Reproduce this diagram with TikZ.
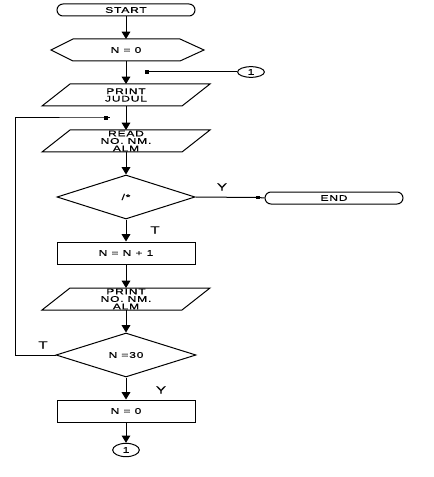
\documentclass[tikz,border=0pt]{standalone}
\usepackage{fontspec}
\setmainfont{Liberation Sans}
\newfontfamily\fcfont[FakeStretch=1.45,LetterSpace=10,FakeBold=0.6]{Liberation Sans}
\usetikzlibrary{arrows.meta,shapes.misc,shapes.geometric}
\begin{document}
\begin{tikzpicture}[x=0.75pt,y=-0.75pt,
  line width=0.75pt,
  every node/.style={font=\fcfont\fontsize{6.2}{5.6}\selectfont, inner sep=0pt, align=center},
  arr/.style={-{Triangle[length=5.5pt,width=6.5pt]}},
  term/.style={draw, rounded rectangle, minimum height=9pt, minimum width=103.5pt},
  box/.style={draw, rectangle, minimum height=16.5pt, minimum width=103.5pt},
  ghost/.style={rectangle, minimum height=16.5pt, minimum width=105pt},
  lbl/.style={font=\fcfont\fontsize{8}{8}\selectfont},
  mk/.style={fill, rectangle, minimum width=3.5pt, minimum height=2.4pt}
]
\useasboundingbox (0,0) rectangle (433,477);
% START
\node[term] (start) at (126,10) {START};
% N = 0 hexagon
\node[rectangle, minimum width=114.75pt, minimum height=16.5pt] (init) at (126,50) {N = 0};
\draw (51,50) -- (73,39) -- (180,39) -- (204,50) -- (180,61) -- (73,61) -- cycle;
% connector 1 (top)
\node[draw, ellipse, minimum width=20pt, minimum height=8pt] (c1top) at (251,72) {1};
\node[mk] (m1) at (147,72) {};
\draw (c1top.west) -- (m1.center);
% PRINT JUDUL
\node[ghost] (pj) at (126,95) {PRINT\\JUDUL};
\draw (70,84) -- (210,84) -- (182,106) -- (42,106) -- cycle;
% READ
\node[ghost] (rd) at (126,141) {READ\\NO. NM.\\ALM};
\draw (70,130) -- (210,130) -- (182,152) -- (42,152) -- cycle;
% decision /*
\node[diamond, draw, aspect=3.1, minimum width=103.5pt, minimum height=33pt] (d1) at (126,197) {/*};
% END
\node[term] (end) at (334,198) {END};
\node[mk] (m2) at (258,197.5) {};
% N = N + 1
\node[box] (inc) at (126,253) {N = N + 1};
% PRINT NO NM ALM
\node[ghost] (pr) at (126,299) {PRINT\\NO. NM.\\ALM};
\draw (70,288) -- (210,288) -- (182,310) -- (42,310) -- cycle;
% decision N=30
\node[diamond, draw, aspect=3.1, minimum width=105pt, minimum height=33pt] (d2) at (126,355) {N =30};
% N = 0
\node[box] (reset) at (126,411) {N = 0};
% connector 1 (bottom)
\node[draw, ellipse, minimum width=20pt, minimum height=10pt] (c1bot) at (126,450) {1};
% loop marker
\node[mk] (m3) at (106,118) {};
\coordinate (lc) at (15,118);
% arrows
\draw[arr] (start.south) -- (126,39);
\draw[arr] (126,61) -- (126,84);
\draw[arr] (126,106) -- (126,130);
\draw[arr] (126,152) -- (d1.north);
\draw (d1.east) -- (m2.center) -- (end.west);
\draw[arr] (d1.south) -- (inc.north);
\draw[arr] (inc.south) -- (126,288);
\draw[arr] (126,310) -- (d2.north);
\draw (d2.west) -| (lc) -- (m3.center) -- (110,118);
\draw[arr] (d2.south) -- (reset.north);
\draw[arr] (reset.south) -- (c1bot.north);
% labels
\node[lbl] (ly1) at (222,187) {Y};
\node[lbl] (lt1) at (155,230) {T};
\node[lbl] (lt2) at (43,345) {T};
\node[lbl] (ly2) at (161,390) {Y};
\end{tikzpicture}
\end{document}
